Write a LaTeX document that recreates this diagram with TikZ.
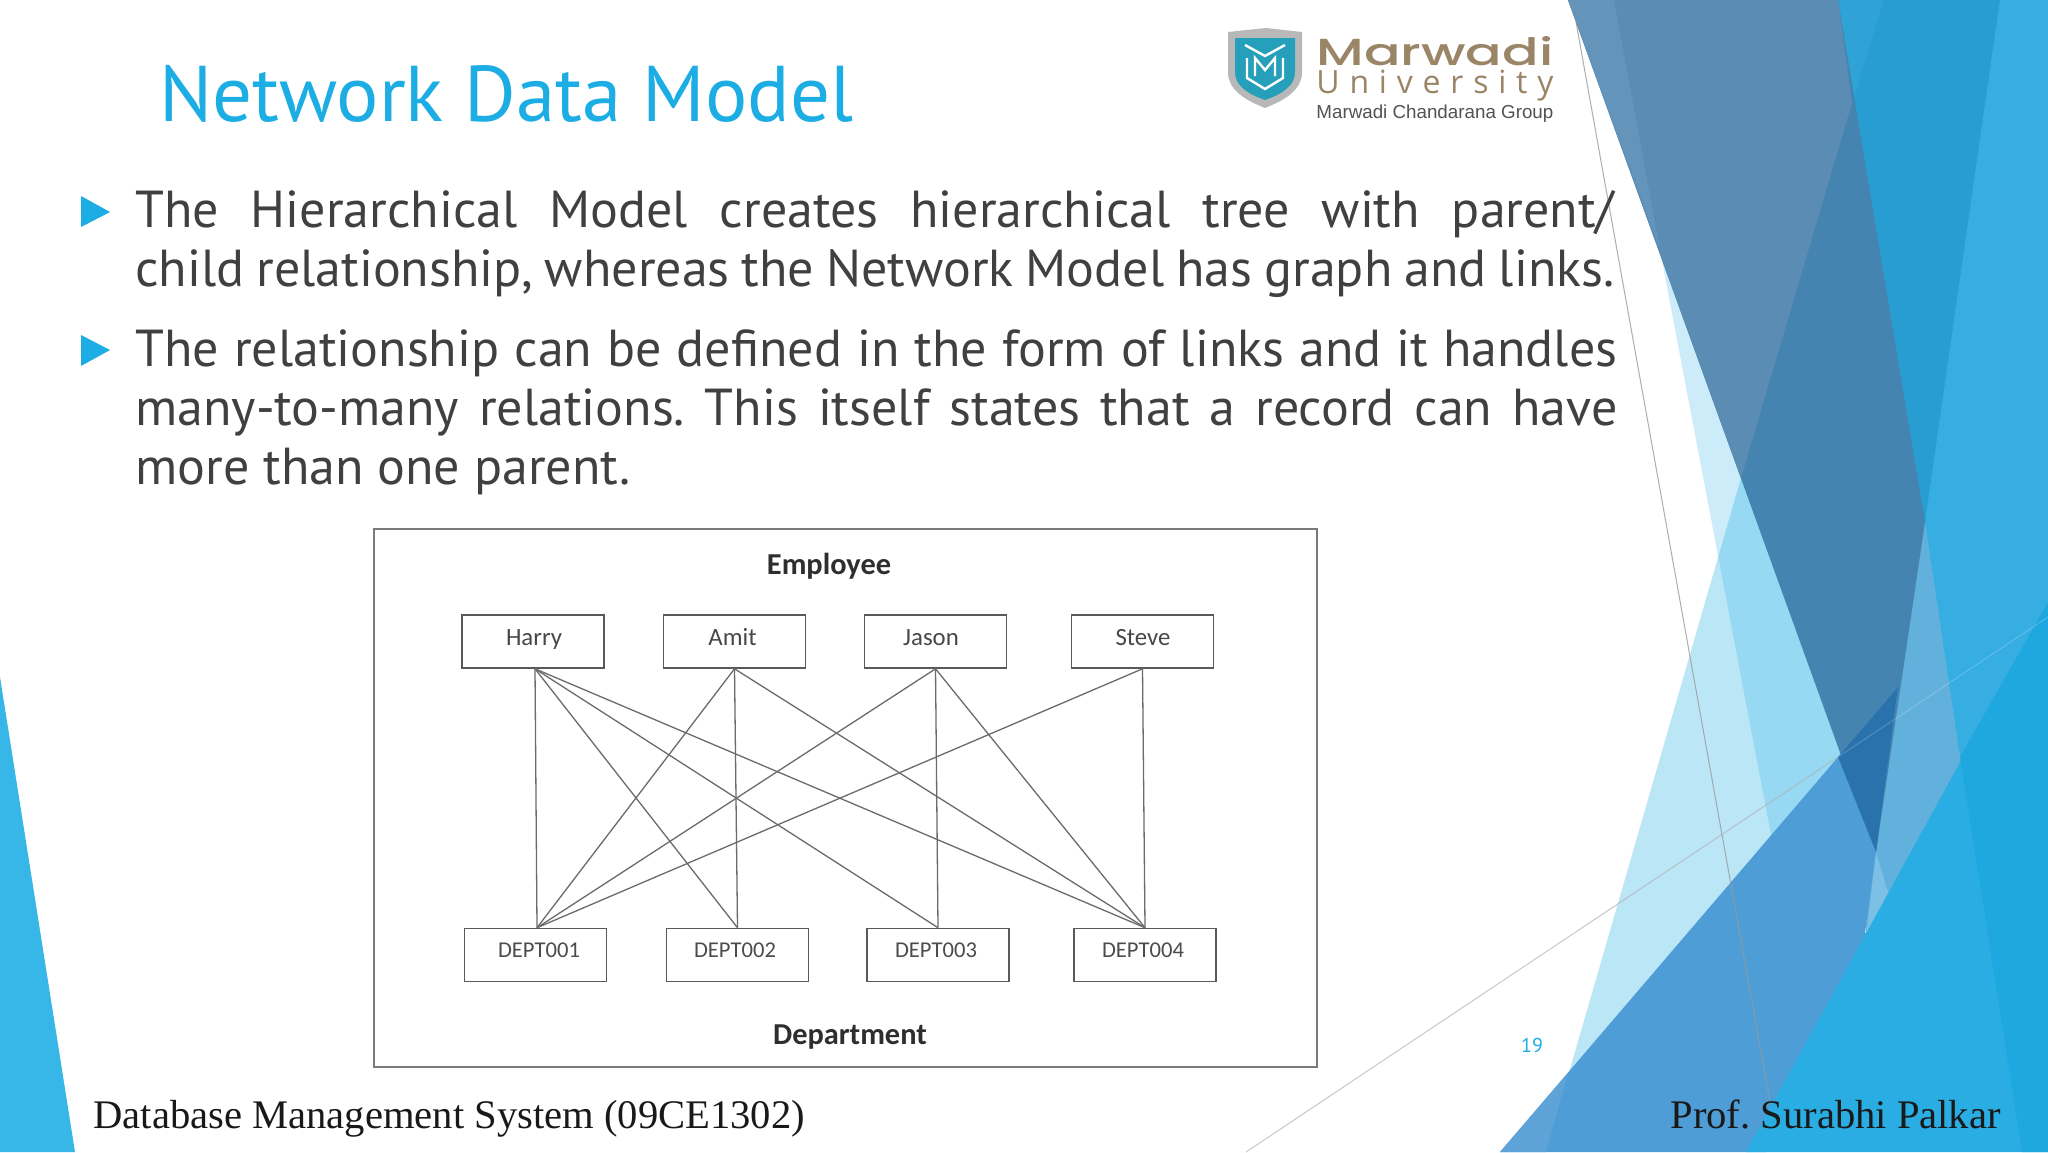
\documentclass[tikz,border=0pt]{standalone}
\usepackage{graphicx}
\usepackage{fontspec}
\setmainfont{PT Sans}
\newfontfamily\footfont{Liberation Serif}
\newfontfamily\diagfont{Carlito}
\newfontfamily\logofont{Poppins Medium}
\newfontfamily\logothin{Open Sans}
\newfontfamily\logogroup{Liberation Sans}
\usetikzlibrary{positioning}
\definecolor{accent}{HTML}{1CADE4}
\definecolor{bodytxt}{HTML}{404040}
\definecolor{logobrown}{HTML}{9A8567}
\newcommand{\jline}[2]{\hbox to #1{\frenchspacing\spaceskip=.25em plus 1fil minus .1em\relax #2}}
\tikzset{
  facet/.style={draw=none},
  thin line/.style={line width=0.5pt},
  bodyline/.style={anchor=base west,inner sep=0pt,font=\fontsize{26}{30}\selectfont,text=bodytxt},
  bullet/.style={fill=accent,draw=none},
  emp/.style={draw=black!65,line width=0.8pt,minimum width=71pt,minimum height=26.5pt,inner sep=0pt,fill=white},
  lab/.style={anchor=base,inner sep=0pt,font=\diagfont\fontsize{12.4}{14}\selectfont,text=black!72},
  dlab/.style={anchor=base,inner sep=0pt,font=\diagfont\fontsize{11.3}{12}\selectfont,text=black!70},
  head/.style={anchor=base,inner sep=0pt,font=\diagfont\bfseries\fontsize{15.2}{16}\selectfont,text=black!82},
  link/.style={draw=black!58,line width=0.65pt},
  foot/.style={anchor=base west,inner sep=0pt,font=\footfont\frenchspacing\fontsize{20.3}{24}\selectfont,text=black!90}
}
\begin{document}
\begin{tikzpicture}[x=0.5pt,y=-0.5pt]
\useasboundingbox (0,0) rectangle (2048,1152);
\fill[white] (0,0) rectangle (2048,1152);
% left facet
\fill[facet,fill=accent!88!white] (0,677) -- (75,1152) -- (0,1152) -- cycle;
% right facets (each runs a little under the one drawn after it, so no seam shows)
\fill[facet,fill=accent,opacity=.22] (1660,250) -- (1680,250) -- (1860,757) -- (1772,840) -- cycle;
\fill[facet,fill=accent,opacity=.30] (1741,478) -- (1760,478) -- (1850,757) -- (1838,770) -- (1546,1152) -- cycle;
\fill[facet,fill={rgb,255:red,40;green,157;blue,210}] (1820,0) -- (2010,0) -- (1935,522) -- (1900,522) -- cycle;
\fill[facet,fill={rgb,255:red,47;green,163;blue,214}] (1820,0) -- (1884,0) -- (1852,103) -- (1840,103) -- cycle;
\fill[facet,fill={rgb,255:red,55;green,174;blue,226}] (2000,0) -- (2048,0) -- (2048,640) -- (1900,900) -- (1875,840) -- (1910,560) -- (1925,522) -- cycle;
\fill[facet,fill={rgb,255:red,98;green,176;blue,220}] (1925,522) -- (1960,757) -- (1968,775) -- (1890,905) -- (1865,945) -- (1870,852) -- (1910,560) -- cycle;
\fill[facet,fill={rgb,255:red,124;green,192;blue,230}] (1887,889) -- (1892,900) -- (1865,945) -- (1876,852) -- cycle;
\fill[facet,fill={rgb,255:red,69;green,131;blue,176}] (1568,0) -- (1876,852) -- (1925,522) -- (1838,0) -- cycle;
\fill[facet,fill={rgb,255:red,90;green,140;blue,180}] (1568,0) -- (1838,0) -- (1852,103) -- (1741,478) -- cycle;
\fill[facet,fill={rgb,255:red,101;green,148;blue,186}] (1568,0) -- (1614,0) -- (1660,250) -- cycle;
\fill[facet,fill={rgb,255:red,79;green,157;blue,214}] (1500,1152) -- (1898,687) -- (1865,933) -- (1885,933) -- (1766,1152) -- cycle;
\fill[facet,fill={rgb,255:red,94;green,163;blue,216}] (1500,1152) -- (1568,1073) -- (1546,1152) -- cycle;
\fill[facet,fill={rgb,255:red,42;green,114;blue,171}] (1838,757) -- (1898,687) -- (1876,852) -- cycle;
\fill[facet,fill={rgb,255:red,42;green,173;blue,227}] (1746,1152) -- (2048,602) -- (2048,1152) -- cycle;
\fill[facet,fill={rgb,255:red,31;green,168;blue,224}] (1960,757) -- (2048,602) -- (2048,1152) -- (2022,1152) -- cycle;
% thin lines
\draw[thin line,draw=black!40,opacity=.8] (1576,22) -- (1770,1102);
\draw[thin line,draw=black!30,opacity=.7] (1246,1152) -- (1838,757);
\draw[thin line,draw=white,opacity=.2] (1838,757) -- (2048,617);
% title
\node[anchor=base west,inner sep=0pt,font=\fontsize{39.5}{44}\selectfont,text=accent] (title) at (159,121) {Network Data Model};
% logo
\path[fill=black!28] (1228,32) -- (1266,28) -- (1302,32) -- (1302,72) .. controls (1302,90) and (1285,100) .. (1265,108) .. controls (1245,100) and (1228,90) .. (1228,72) -- cycle;
\path[fill={rgb,255:red,38;green,160;blue,186}] (1235,38) -- (1295,38) -- (1295,72) .. controls (1295,86) and (1282,94) .. (1265,100) .. controls (1248,94) and (1235,86) .. (1235,72) -- cycle;
\draw[white,line width=1.2pt,line join=miter] (1245,45) -- (1265,56) -- (1285,45);
\draw[white,line width=1.2pt,line join=miter] (1247,58) -- (1247,78) -- (1265,89) -- (1283,78) -- (1283,58);
\draw[white,line width=1.2pt,line join=miter] (1255,76) -- (1255,58) -- (1265,70) -- (1275,58) -- (1275,76);
\node[anchor=base west,inner sep=0pt,text=logobrown] (logoA) at (1316,65) {\logofont\resizebox{118.5pt}{14.5pt}{Marwadi}};
\node[anchor=base west,inner sep=0pt,text=logobrown] (logoB) at (1316,93) {\hbox to 118.5pt{\logothin\fontsize{16}{16}\selectfont U\hfil n\hfil i\hfil v\hfil e\hfil r\hfil s\hfil i\hfil t\hfil y}};
\node[anchor=base west,inner sep=0pt,text=black!68] (logoC) at (1316,118) {\logogroup\resizebox{118.5pt}{!}{Marwadi Chandarana Group}};
% bullets
\fill[bullet] (81,196) -- (110,212) -- (81,227) -- cycle;
\fill[bullet] (81,335) -- (110,350) -- (81,366) -- cycle;
% body text
\node[bodyline] (l1) at (135,227) {\jline{739.5pt}{The Hierarchical Model creates hierarchical tree with parent/}};
\node[bodyline] (l2) at (135,286) {\jline{739.5pt}{child relationship, whereas the Network Model has graph and links.}};
\node[bodyline] (l3) at (135,366) {\jline{741pt}{The relationship can be defined in the form of links and it handles}};
\node[bodyline] (l4) at (135,425) {\jline{741pt}{many-to-many relations. This itself states that a record can have}};
\node[bodyline] (l5) at (135,484) {more than one parent.};
% diagram frame
\node[draw=black!52,line width=1.3pt,fill=white,minimum width=471.5pt,minimum height=269pt,inner sep=0pt] (frame) at (845.5,798) {};
\node[emp] (h) at (533,641.5) {};
\node[emp] (a) at (734.5,641.5) {};
\node[emp] (j) at (935.5,641.5) {};
\node[emp] (s) at (1142.5,641.5) {};
\node[emp] (d1) at (535.5,955) {};
\node[emp] (d2) at (737.5,955) {};
\node[emp] (d3) at (938,955) {};
\node[emp] (d4) at (1145,955) {};
\node[lab] (th) at (534,645) {Harry};
\node[lab] (ta) at (732.5,645) {Amit};
\node[lab] (tj) at (931,645) {Jason};
\node[lab] (ts) at (1143,645) {Steve};
\node[dlab] (td1) at (539,957.5) {DEPT001};
\node[dlab] (td2) at (735,957.5) {DEPT002};
\node[dlab] (td3) at (936,957.5) {DEPT003};
\node[dlab] (td4) at (1143,957.5) {DEPT004};
\node[head] (emphead) at (829,574) {Employee};
\node[head] (dephead) at (850,1044) {Department};
\foreach \p/\q in {a/d2,a/d4,j/d3,j/d4,s/d4}
  \draw[link] (\p.south) -- (\q.north);
\foreach \q in {d2,d3,d4}
  \draw[link] ([xshift=1pt]h.south) -- (\q.north);
\draw[link] ([xshift=1pt]h.south) -- ([xshift=.75pt]d1.north);
\foreach \p in {a,j,s}
  \draw[link] (\p.south) -- ([xshift=.75pt]d1.north);
% page number and footer
\node[anchor=base,inner sep=0pt,font=\fontsize{10}{12}\selectfont,text=accent] (pg) at (1532,1052) {19};
\node[foot] (f1) at (93,1128) {Database Management System (09CE1302)};
\node[foot] (f2) at (1670,1128) {Prof. Surabhi Palkar};
\end{tikzpicture}
\end{document}
